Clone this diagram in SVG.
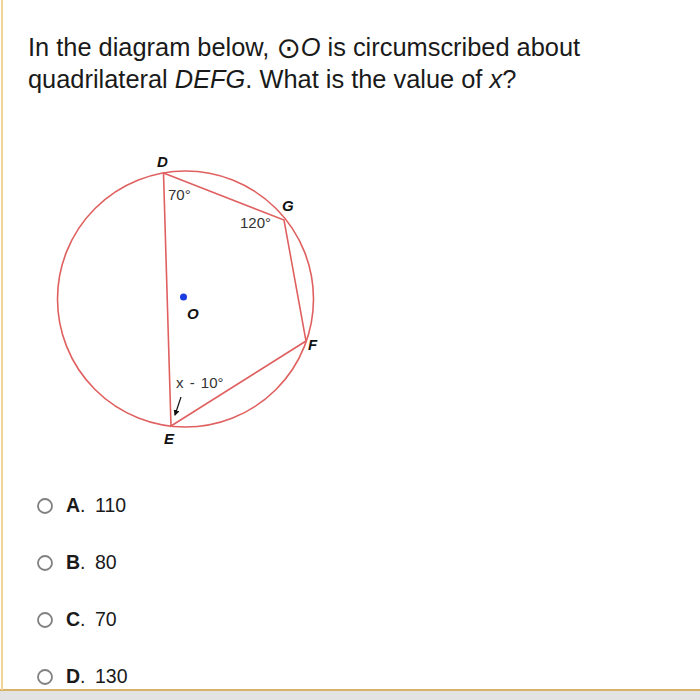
<svg xmlns="http://www.w3.org/2000/svg" width="700" height="700" viewBox="0 0 700 700">
<style>
.q{font-family:"Liberation Sans",Arial,sans-serif;font-size:25.4px;fill:#1a1a1a}
.i{font-style:italic}
.lbl{font-family:"Liberation Sans",Arial,sans-serif;font-size:15px;font-weight:bold;font-style:italic;fill:#111}
.ang{font-family:"Liberation Sans",Arial,sans-serif;font-size:15px;fill:#333}
.red{fill:none;stroke:#e06060;stroke-width:1.6}
.opt{font-family:"Liberation Sans",Arial,sans-serif;font-size:19.5px;fill:#1a1a1a}
.radio{fill:#fff;stroke:#808080;stroke-width:1.8}
</style>
<defs>
<marker id="ah" markerWidth="6" markerHeight="6" refX="5" refY="3" orient="auto" markerUnits="userSpaceOnUse">
<path d="M0,0 L6,3 L0,6 z" fill="#111"/>
</marker>
</defs>
<rect width="700" height="700" fill="#fff"/>
<rect x="0" y="691" width="700" height="9" fill="#e3e3e3"/>
<line x1="0" y1="690" x2="700" y2="690" stroke="#d9b26a" stroke-width="2"/>
<line x1="2" y1="0" x2="2" y2="690" stroke="#f0d596" stroke-width="2"/>

<text class="q" x="28" y="56">In the diagram below, <tspan font-family="DejaVu Sans" font-size="29" dy="2">⊙</tspan><tspan class="i" dy="-2">O</tspan> is circumscribed about</text>
<text class="q" x="28" y="88">quadrilateral <tspan class="i">DEFG</tspan>. What is the value of <tspan class="i">x</tspan>?</text>

<g id="circle">
<circle class="red" cx="185.5" cy="299" r="128"/>
</g>
<g id="connectors">
<polygon class="red" points="163.5,173 284,220 306,341 171,426"/>
<line x1="181" y1="397" x2="175" y2="415" stroke="#111" stroke-width="1.2" marker-end="url(#ah)"/>
</g>
<g id="D"><text class="lbl" x="157" y="167">D</text><text class="ang" x="168" y="200">70°</text></g>
<g id="G"><text class="lbl" x="282" y="211">G</text><text class="ang" x="240" y="228">120°</text></g>
<g id="F"><text class="lbl" x="308" y="350">F</text></g>
<g id="E"><text class="lbl" x="164" y="444">E</text><text class="ang" x="176" y="388" word-spacing="2">x - 10°</text></g>
<g id="O"><circle cx="183.5" cy="297" r="3.5" fill="#1a3be0"/><text class="lbl" x="187" y="319">O</text></g>

<g id="optA"><circle class="radio" cx="45" cy="506" r="7"/><text class="opt" x="66" y="512"><tspan font-weight="bold">A</tspan>.</text><text class="opt" x="95" y="512">110</text></g>
<g id="optB"><circle class="radio" cx="45" cy="563" r="7"/><text class="opt" x="66" y="569"><tspan font-weight="bold">B</tspan>.</text><text class="opt" x="95" y="569">80</text></g>
<g id="optC"><circle class="radio" cx="45" cy="620" r="7"/><text class="opt" x="66" y="626"><tspan font-weight="bold">C</tspan>.</text><text class="opt" x="95" y="626">70</text></g>
<g id="optD"><circle class="radio" cx="45" cy="677" r="7"/><text class="opt" x="66" y="683"><tspan font-weight="bold">D</tspan>.</text><text class="opt" x="95" y="683">130</text></g>
</svg>
